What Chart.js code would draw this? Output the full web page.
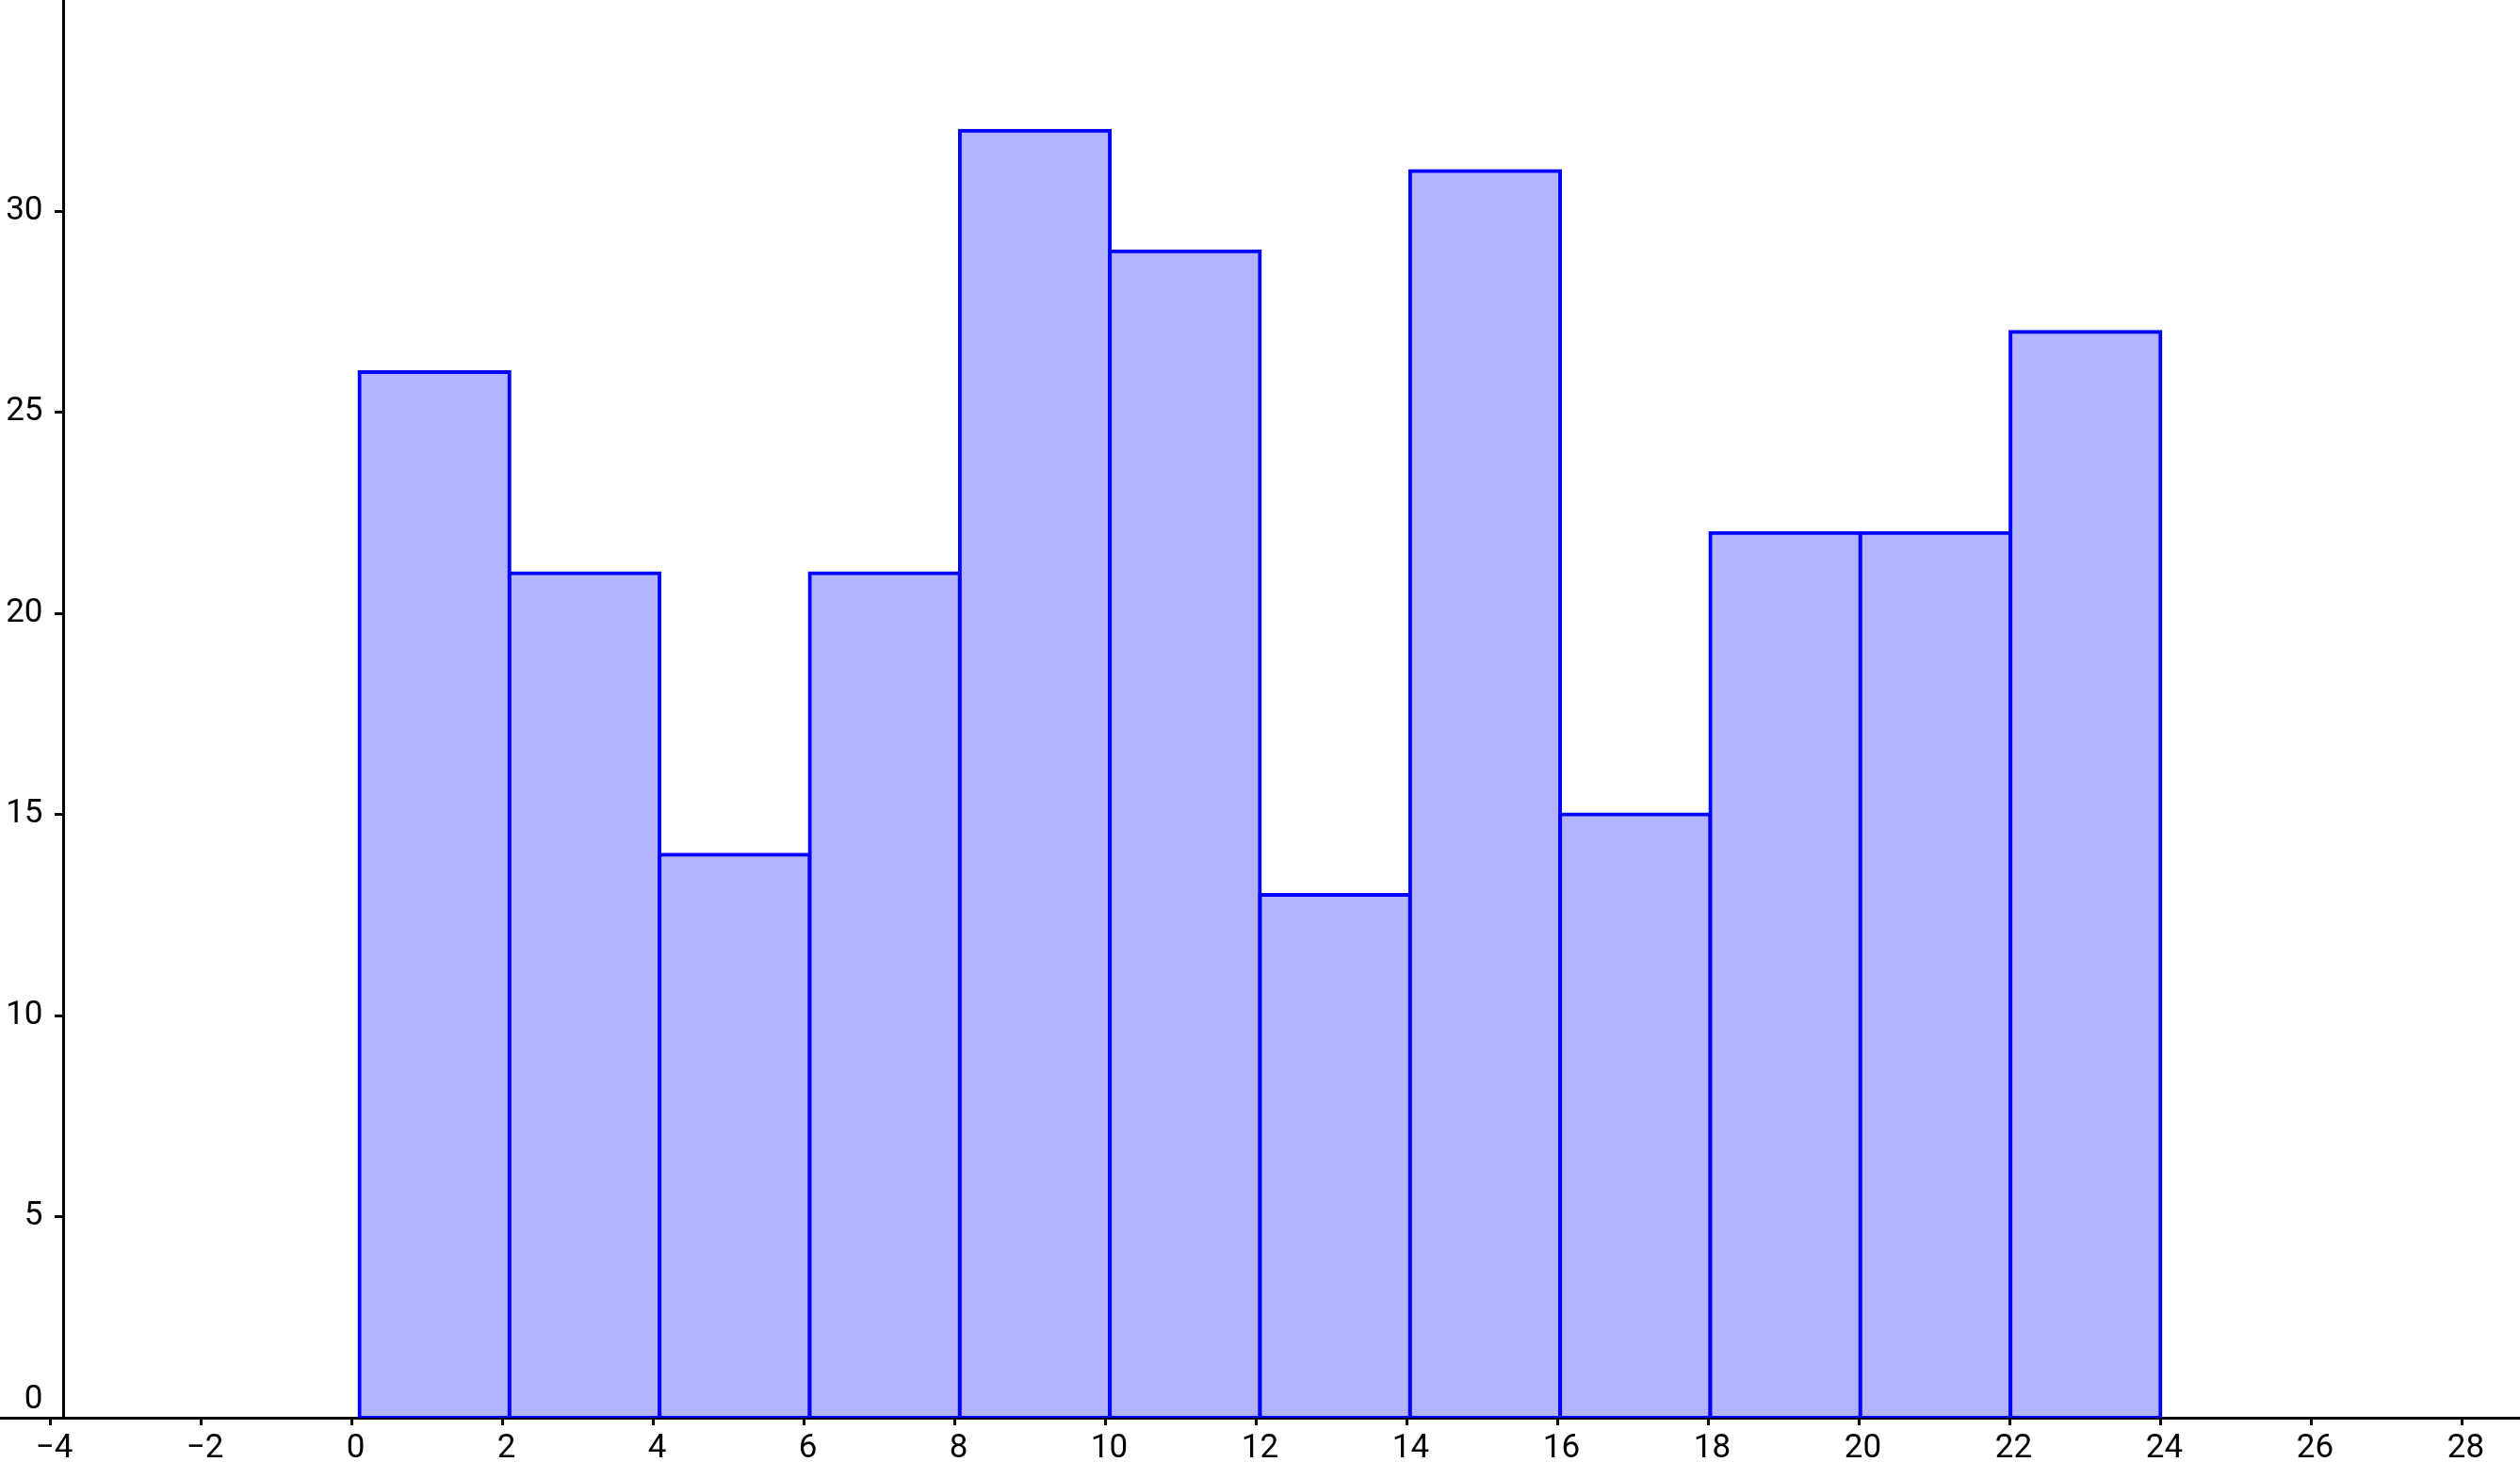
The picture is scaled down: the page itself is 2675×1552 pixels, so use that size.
<!DOCTYPE html>
<html>
<head>
<meta charset="utf-8">
<title>Histogram</title>
<script src="https://cdn.jsdelivr.net/npm/chart.js@4.4.1/dist/chart.umd.min.js"></script>
<style>
  html, body { margin: 0; padding: 0; background: #fff; }
  #histogram { display: block; }
</style>
</head>
<body>
<canvas id="histogram" width="2675" height="1552"></canvas>
<script>
// class boundaries and heights
const binEdges = [0.1, 2.092, 4.083, 6.075, 8.067, 10.058, 12.05, 14.042, 16.033, 18.025, 20.017, 22.008, 24.0];
const counts = [26, 21, 14, 21, 32, 29, 13, 31, 15, 22, 22, 27];

const xTicks = [-4, -2, 0, 2, 4, 6, 8, 10, 12, 14, 16, 18, 20, 22, 24, 26, 28];
const yTicks = [0, 5, 10, 15, 20, 25, 30];

// one bar per class, centred in it
const bars = counts.map((c, i) => ({ x: (binEdges[i] + binEdges[i + 1]) / 2, y: c }));

const minus = v => v < 0 ? "\u2212" + Math.abs(v) : String(v);

const tickFont = { family: "Roboto", size: 35 };
const Y_MAX = 35.25;
const Y_AXIS_AT = -3.82;   // where the vertical axis line sits
const Y_LABELS_AT = -4.1;  // right edge of the y tick labels

// positioned axes still ask for padding, which would shrink the plot
const noPadding = scale => {
    scale.paddingTop = 0;
    scale.paddingBottom = 0;
    scale.paddingLeft = 0;
    scale.paddingRight = 0;
};

const hiddenGrid = { display: false };

Chart.defaults.font.family = "Roboto";

new Chart(document.getElementById("histogram"), {
    type: "bar",
    data: {
        datasets: [{
            data: bars,
            backgroundColor: "#b3b3ff",
            borderColor: "#0000ff",
            borderWidth: 4,
            borderSkipped: false,
            inflateAmount: 2,
            barPercentage: 1,
            categoryPercentage: 1,
            xAxisID: "x",
            yAxisID: "y"
        }]
    },
    options: {
        responsive: false,
        animation: false,
        devicePixelRatio: 1,
        layout: { padding: 0 },
        plugins: { legend: { display: false }, tooltip: { enabled: false } },
        scales: {
            x: {
                type: "linear",
                position: "bottom",
                min: -4.669,
                max: 28.77,
                offset: false,
                grid: { display: true, offset: false, drawOnChartArea: false, drawTicks: true, tickLength: 8, color: "#000", lineWidth: 3 },
                border: { display: true, color: "#000", width: 3 },
                afterBuildTicks: scale => { scale.ticks = xTicks.map(v => ({ value: v })); },
                afterFit: scale => { noPadding(scale); scale.height = 47; },
                ticks: {
                    color: "#000",
                    font: tickFont,
                    padding: 4,
                    labelOffset: 4,
                    autoSkip: false,
                    maxRotation: 0,
                    callback: v => minus(v)
                }
            },
            // axis line and its tick marks
            y: {
                type: "linear",
                position: { x: Y_AXIS_AT },
                min: 0,
                max: Y_MAX,
                grid: { display: true, drawOnChartArea: false, drawTicks: true, tickLength: 8, color: "#000", lineWidth: 3 },
                border: { display: true, color: "#000", width: 3 },
                afterBuildTicks: scale => { scale.ticks = yTicks.filter(v => v !== 0).map(v => ({ value: v })); },
                afterFit: noPadding,
                ticks: { display: false }
            },
            // tick labels 5..30
            yLabels: {
                type: "linear",
                position: { x: Y_LABELS_AT },
                min: 0,
                max: Y_MAX,
                grid: hiddenGrid,
                border: { display: false },
                afterBuildTicks: scale => { scale.ticks = yTicks.filter(v => v !== 0).map(v => ({ value: v })); },
                afterFit: noPadding,
                ticks: { color: "#000", font: tickFont, callback: v => String(v) }
            },
            // the zero label sits just above the x axis
            yZero: {
                type: "linear",
                position: { x: Y_LABELS_AT },
                min: 0,
                max: Y_MAX,
                grid: hiddenGrid,
                border: { display: false },
                afterBuildTicks: scale => { scale.ticks = yTicks.filter(v => v === 0).map(v => ({ value: v })); },
                afterFit: noPadding,
                ticks: { color: "#000", font: tickFont, labelOffset: -19, callback: v => String(v) }
            }
        }
    }
});
</script>
</body>
</html>
